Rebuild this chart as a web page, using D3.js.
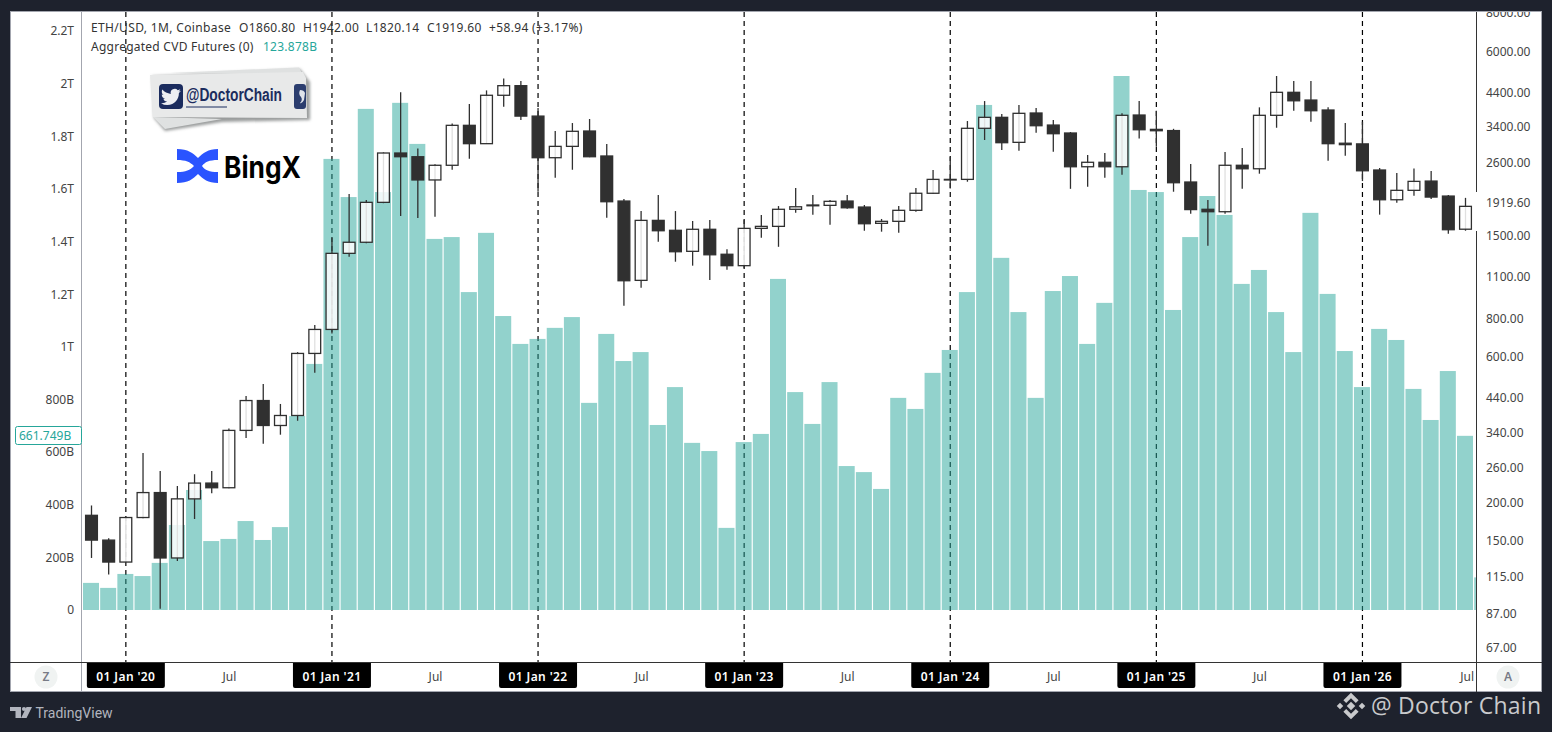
<!DOCTYPE html>
<html>
<head>
<meta charset="utf-8">
<script src="https://cdn.jsdelivr.net/npm/d3@7"></script>
<style>
html, body { margin: 0; padding: 0; background: #1e222d; overflow: hidden; }
svg { display: block; }
text { font-family: "Noto Sans", sans-serif; }
</style>
</head>
<body>
<script>
var months = ["2019-11","2019-12",
  "2020-01","2020-02","2020-03","2020-04","2020-05","2020-06","2020-07","2020-08","2020-09","2020-10","2020-11","2020-12",
  "2021-01","2021-02","2021-03","2021-04","2021-05","2021-06","2021-07","2021-08","2021-09","2021-10","2021-11","2021-12",
  "2022-01","2022-02","2022-03","2022-04","2022-05","2022-06","2022-07","2022-08","2022-09","2022-10","2022-11","2022-12",
  "2023-01","2023-02","2023-03","2023-04","2023-05","2023-06","2023-07","2023-08","2023-09","2023-10","2023-11","2023-12",
  "2024-01","2024-02","2024-03","2024-04","2024-05","2024-06","2024-07","2024-08","2024-09","2024-10","2024-11","2024-12",
  "2025-01","2025-02","2025-03","2025-04","2025-05","2025-06","2025-07","2025-08","2025-09","2025-10","2025-11","2025-12",
  "2026-01","2026-02","2026-03","2026-04","2026-05","2026-06","2026-07","2026-08"];

// monthly candles
var opens = [182,151,128,179,216,132,206,232,224,345,432,358,386,616,738,1309,1423,1922,2787,2710,2275,2541,3433,2990,4305,4628,
  3680,2690,2930,3289,2725,1941,1068,1678,1557,1329,1569,1300,1193,1580,1604,1824,1873,1879,1941,1855,1641,1666,1810,2058,
  2281,2285,3357,3646,3020,3767,3440,3240,2513,2599,2513,3710,3330,3300,2240,1824,1791,2541,2475,3702,4402,4153,3853,3000,
  2985,2452,1960,2104,2256,2015,1570,1860.80];
var highs = [196,153,180,291,254,227,248,254,350,447,489,421,622,763,1476,2047,1955,2800,4402,2885,2560,3480,4030,4466,4888,4793,
  3909,3289,3493,3600,2985,1970,1800,2031,1800,1670,1683,1351,1683,1747,1869,2140,2031,1955,2031,1884,1696,1869,2140,2452,
  2710,3546,4122,3739,4000,3909,3572,3265,2746,2787,3758,4122,3832,3344,2566,1955,2808,2896,3931,4977,4793,4793,3931,3493,
  3527,2490,2397,2480,2433,2031,1988,1942.00];
var lows = [132,116.5,128,178,90,129,177,215,223,326,312,334,371,533,716,1276,1412,1910,1734,1707,1725,2457,2668,2985,3948,3572,
  2082,2313,2457,2700,1710,882,1010,1429,1229,1193,1071,1157,1172,1473,1375,1778,1752,1624,1832,1552,1541,1530,1791,2051,
  2135,2245,3074,2851,2835,3248,2815,2128,2162,2313,2367,3110,2923,2082,1765,1387,1765,2128,2385,3371,3832,3525,2630,2730,
  2256,1752,1916,2020,1971,1518,1552,1820.14];
var closes = [151,128,179,216,132,206,232,224,345,432,358,386,616,738,1309,1423,1922,2787,2710,2275,2541,3433,2990,4305,4628,3680,
  2690,2930,3282,2710,1931,1065,1678,1552,1325,1569,1295,1193,1580,1604,1824,1859,1884,1937,1845,1636,1666,1810,2058,2285,
  2285,3357,3646,3012,3758,3423,3223,2513,2599,2513,3702,3321,3296,2228,1820,1791,2541,2475,3702,4402,4130,3832,2990,2968,
  2438,1960,2104,2251,2000,1564,1865,1919.60];

// aggregated CVD futures, in billions
var cvd = [103,84,137,129,179,323,456,262,270,338,266,315,737,935,1714,1569,1904,1588,1927,1771,1410,1417,1208,1433,1117,1011,
  1030,1072,1113,787,1049,946,980,703,847,635,604,312,638,669,1258,828,707,866,547,524,460,806,764,901,
  988,1208,1919,1338,1132,806,1212,1269,1011,1167,2029,1596,1588,1140,1417,1573,1501,1239,1292,1132,980,1509,1201,984,
  847,1068,1026,840,722,908,661.749,123.878];

var cvdTicks = [0,200,400,600,800,1000,1200,1400,1600,1800,2000,2200];
var cvdTickLabels = ["0","200B","400B","600B","800B","1T","1.2T","1.4T","1.6T","1.8T","2T","2.2T"];
var priceTicks = [8000,6000,4400,3400,2600,1919.6,1500,1100,800,600,440,340,260,200,150,115,87,67];
var yearMonths = ["2020-01","2021-01","2022-01","2023-01","2024-01","2025-01","2026-01"];
var yearLabels = ["01 Jan '20","01 Jan '21","01 Jan '22","01 Jan '23","01 Jan '24","01 Jan '25","01 Jan '26"];
var julMonths = ["2020-07","2021-07","2022-07","2023-07","2024-07","2025-07","2026-07"];

var width = 1552, height = 732;
var plot = {left: 82, right: 1476, top: 12, bottom: 662};

var svg = d3.select("body").append("svg")
    .attr("width", width)
    .attr("height", height);

var x = d3.scalePoint().domain(months).range([91.5, 91.5 + 17.175 * (months.length - 1)]);
var yCvd = d3.scaleLinear().domain([0, 2200]).range([610, 31]);
var yPrice = d3.scaleLog().domain([67, 8000]).range([648, 13]);

var defs = svg.append("defs");
defs.append("clipPath").attr("id", "plotClip").append("rect")
    .attr("x", plot.left).attr("y", plot.top)
    .attr("width", plot.right - plot.left).attr("height", plot.bottom - plot.top);
defs.append("clipPath").attr("id", "panelClip").append("rect")
    .attr("x", 11).attr("y", 12).attr("width", 1530).attr("height", 680);
var blur = defs.append("filter").attr("id", "softShadow");
blur.append("feGaussianBlur").attr("stdDeviation", 1.6);

//white panel and its frame
svg.append("rect").attr("x", 10.5).attr("y", 11.5).attr("width", 1531).attr("height", 680)
    .attr("fill", "#fff").attr("stroke", "#a3a6af");

var chart = svg.append("g").attr("clip-path", "url(#plotClip)");

//year lines sit under the translucent bars
chart.selectAll(".yearLine")
    .data(yearMonths)
    .enter()
    .append("line")
    .attr("class", "yearLine")
    .attr("x1", function (d) { return x(d); })
    .attr("x2", function (d) { return x(d); })
    .attr("y1", plot.top)
    .attr("y2", plot.bottom)
    .attr("stroke", "#000")
    .attr("stroke-width", 1.2)
    .attr("stroke-dasharray", "5 4");

chart.selectAll(".cvdBar")
    .data(cvd)
    .enter()
    .append("rect")
    .attr("class", "cvdBar")
    .attr("x", function (d, i) { return x(months[i]) - 8.5; })
    .attr("y", function (d) { return yCvd(d); })
    .attr("width", 16)
    .attr("height", function (d) { return yCvd(0) - yCvd(d); })
    .attr("fill", "#26a69a")
    .attr("fill-opacity", 0.5);

//candles
var candle = chart.selectAll(".candle")
    .data(months)
    .enter()
    .append("g")
    .attr("class", "candle");

candle.append("line")
    .attr("x1", function (d) { return x(d); })
    .attr("x2", function (d) { return x(d); })
    .attr("y1", function (d, i) { return yPrice(highs[i]); })
    .attr("y2", function (d, i) { return yPrice(lows[i]); })
    .attr("stroke", "#303030")
    .attr("stroke-width", 1.3);

candle.append("rect")
    .attr("x", function (d) { return x(d) - 5.9; })
    .attr("y", function (d, i) { return yPrice(Math.max(opens[i], closes[i])); })
    .attr("width", 11.8)
    .attr("height", function (d, i) {
        return Math.max(0.6, Math.abs(yPrice(opens[i]) - yPrice(closes[i])));
    })
    .attr("fill", function (d, i) { return closes[i] > opens[i] ? "#fff" : "#303030"; })
    .attr("fill-opacity", function (d, i) { return closes[i] > opens[i] ? 0.85 : 1; })
    .attr("stroke", "#303030")
    .attr("stroke-width", 1.3);

//axis borders
var border = svg.append("g").attr("stroke-width", 1).attr("shape-rendering", "crispEdges");
border.append("line").attr("x1", 81.5).attr("x2", 81.5).attr("y1", 12).attr("y2", 662).attr("stroke", "#a3a6af");
border.append("line").attr("x1", 81.5).attr("x2", 81.5).attr("y1", 662).attr("y2", 692).attr("stroke", "#a3a6af");
border.append("line").attr("x1", 10).attr("x2", 1542).attr("y1", 662.5).attr("y2", 662.5).attr("stroke", "#333");
border.append("line").attr("x1", 1476.5).attr("x2", 1476.5).attr("y1", 12).attr("y2", 192).attr("stroke", "#333");
border.append("line").attr("x1", 1476.5).attr("x2", 1476.5).attr("y1", 231).attr("y2", 692).attr("stroke", "#333");

//left axis
var leftAxis = svg.append("g")
    .attr("transform", "translate(74,0)")
    .call(d3.axisLeft(yCvd).tickValues(cvdTicks).tickSize(0).tickPadding(0)
        .tickFormat(function (d, i) { return cvdTickLabels[i]; }));
leftAxis.select(".domain").remove();
leftAxis.selectAll("text").attr("fill", "#444").style("font-size", "12px").style("font-family", "Noto Sans");

//right axis
var rightAxis = svg.append("g")
    .attr("clip-path", "url(#panelClip)")
    .append("g")
    .attr("transform", "translate(1486,0)")
    .call(d3.axisRight(yPrice).tickValues(priceTicks).tickSize(0).tickPadding(0).tickFormat(d3.format(".2f")));
rightAxis.select(".domain").remove();
rightAxis.selectAll("text").attr("fill", "#444").style("font-size", "12px").style("font-family", "Noto Sans");

//time axis
var timeAxis = svg.append("g")
    .attr("transform", "translate(0,677)")
    .call(d3.axisBottom(x).tickValues(julMonths).tickSize(0).tickPadding(0).tickFormat(function () { return "Jul"; }));
timeAxis.select(".domain").remove();
timeAxis.selectAll("text").attr("dy", "0.35em").attr("y", 0).attr("fill", "#444")
    .style("font-size", "12px").style("font-family", "Noto Sans");
//the last Jul runs up against the price axis
timeAxis.selectAll("text").filter(function (d) { return d === "2026-07"; })
    .attr("text-anchor", "end").attr("x", 8);

var yearTag = svg.selectAll(".yearTag")
    .data(yearMonths)
    .enter()
    .append("g")
    .attr("class", "yearTag")
    .attr("transform", function (d) { return "translate(" + x(d) + ",0)"; });
yearTag.append("path")
    .attr("d", "M-39,663 H39 V686 q0,2 -2,2 H-37 q-2,0 -2,-2 Z")
    .attr("fill", "#000");
yearTag.append("text")
    .attr("y", 677)
    .attr("dy", "0.35em")
    .attr("text-anchor", "middle")
    .attr("fill", "#fff")
    .style("font-size", "12px")
    .style("font-weight", "600")
    .style("letter-spacing", "0.4px")
    .text(function (d, i) { return yearLabels[i]; });

//current value tag
svg.append("rect").attr("x", 15.5).attr("y", 426.5).attr("width", 66).attr("height", 18).attr("rx", 2)
    .attr("fill", "#fff").attr("stroke", "#26a69a");
svg.append("text").attr("x", 19).attr("y", 440).attr("fill", "#26a69a").style("font-size", "12px").text("661.749B");

//corner buttons
[[46, "Z"], [1508, "A"]].forEach(function (b) {
    svg.append("circle").attr("cx", b[0]).attr("cy", 677).attr("r", 11.5).attr("fill", "#f0f3f2");
    svg.append("text").attr("x", b[0]).attr("y", 681).attr("text-anchor", "middle")
        .attr("fill", "#787b86").style("font-size", "12px").style("font-weight", "600").text(b[1]);
});

//legend
var legend = svg.append("g").style("font-size", "12px").attr("fill", "#333");
var legend1 = legend.append("text").attr("y", 32).style("letter-spacing", "0.35px");
[[91, "ETH/USD, 1M, Coinbase"], [239, "O1860.80"], [303, "H1942.00"], [366, "L1820.14"], [427, "C1919.60"], [489, "+58.94 (+3.17%)"]]
    .forEach(function (p) { legend1.append("tspan").attr("x", p[0]).text(p[1]); });
var legend2 = legend.append("text").attr("y", 51).style("letter-spacing", "0.25px");
legend2.append("tspan").attr("x", 91).text("Aggregated CVD Futures (0)");
legend2.append("tspan").attr("x", 263).attr("fill", "#26a69a").text("123.878B");

//@DoctorChain sticker
var sticker = svg.append("g");
sticker.append("path").attr("d", "M152,76 L300,69 L310,82 L310,120 L222,122 L165,131 L154,118 Z")
    .attr("fill", "#9a9c9c").attr("filter", "url(#softShadow)");
sticker.append("path").attr("d", "M153,117 L222,119 L165,129 Z").attr("fill", "#dfe1e1");
sticker.append("path").attr("d", "M170,73 L299,67.5 L303,75 Z").attr("fill", "#dfe1e1");
sticker.append("path").attr("d", "M150,75 L303,72 L306,78 L307,118 L153,117 Z").attr("fill", "#e8e9e9");
sticker.append("rect").attr("x", 159).attr("y", 84).attr("width", 24).attr("height", 25).attr("rx", 4).attr("fill", "#1b2c5e");
sticker.append("path").attr("transform", "translate(161,87) scale(0.83)").attr("fill", "#eceef2")
    .attr("d", "M23.953 4.57a10 10 0 01-2.825.775 4.958 4.958 0 002.163-2.723c-.951.555-2.005.959-3.127 1.184a4.92 4.92 0 00-8.384 4.482C7.69 8.095 4.067 6.13 1.64 3.162a4.822 4.822 0 00-.666 2.475c0 1.71.87 3.213 2.188 4.096a4.904 4.904 0 01-2.228-.616v.06a4.923 4.923 0 003.946 4.827 4.996 4.996 0 01-2.212.085 4.936 4.936 0 004.604 3.417 9.867 9.867 0 01-6.102 2.105c-.39 0-.779-.023-1.17-.067a13.995 13.995 0 007.557 2.209c9.053 0 13.998-7.496 13.998-13.985 0-.21 0-.42-.015-.63A9.935 9.935 0 0024 4.59z");
sticker.append("text").attr("x", 186).attr("y", 101).attr("fill", "#1b2c5e")
    .style("font-size", "18px").style("font-weight", "700").style("font-family", "'Liberation Sans Narrow', 'Liberation Sans'")
    .attr("textLength", 96).attr("lengthAdjust", "spacingAndGlyphs").text("@DoctorChain");
sticker.append("line").attr("x1", 186).attr("x2", 227).attr("y1", 107).attr("y2", 107).attr("stroke", "#1b2c5e");
sticker.append("rect").attr("x", 294).attr("y", 84).attr("width", 12).attr("height", 25).attr("rx", 3).attr("fill", "#2b3d6e");
sticker.append("path").attr("d", "M300,90 q4,0 5,3 l-1,7 q-2,4 -4,3 q3,-3 1,-6 q-3,-3 -1,-7 Z").attr("fill", "#dfe3ea");

//BingX logo
svg.append("path")
    .attr("d", "M177 149 C188 149 193 153 198 158 C203 153 208 149 218 149 L218 160 C209 160 205 162 202 166 C205 170 209 172 218 172 L218 183 C208 183 203 179 198 174 C193 179 188 183 177 183 L177 172 C186 172 190 170 194 166 C190 162 186 160 177 160 Z")
    .attr("fill", "#2a54ff");
svg.append("text").attr("x", 224).attr("y", 178).attr("fill", "#000")
    .style("font-size", "30px").style("font-weight", "700").style("font-family", "Inter")
    .attr("textLength", 77).attr("lengthAdjust", "spacingAndGlyphs").text("BingX");

//footer
svg.append("path").attr("d", "M10,707 H21 V718 H15.5 V711 H10 Z M26.5,707 H32 L26.5,718 H21 Z")
    .attr("fill", "#b2b5be");
svg.append("circle").attr("cx", 24).attr("cy", 709).attr("r", 2.1).attr("fill", "#b2b5be");
svg.append("text").attr("x", 35.5).attr("y", 718).attr("fill", "#b2b5be").style("font-size", "14px").style("font-family", "Roboto").text("TradingView");

var binance = svg.append("g").attr("fill", "#c9cacc");
binance.append("path").attr("d", "M1351,692.7 L1358.6,700.3 L1355.8,703 L1351,698.3 L1346.2,703 L1343.4,700.3 Z");
binance.append("path").attr("d", "M1351,719.3 L1358.6,711.7 L1355.8,709 L1351,713.7 L1346.2,709 L1343.4,711.7 Z");
[[1351, 706, 3], [1340, 706, 2.3], [1362, 706, 2.3]].forEach(function (d) {
    binance.append("rect").attr("x", d[0] - d[2]).attr("y", d[1] - d[2]).attr("width", d[2] * 2).attr("height", d[2] * 2)
        .attr("transform", "rotate(45," + d[0] + "," + d[1] + ")");
});
svg.append("text").attr("x", 1371).attr("y", 714).attr("fill", "#c9cacc")
    .style("font-size", "23px").style("font-family", "Open Sans")
    .attr("textLength", 170).attr("lengthAdjust", "spacing").text("@ Doctor Chain");
</script>
</body>
</html>
